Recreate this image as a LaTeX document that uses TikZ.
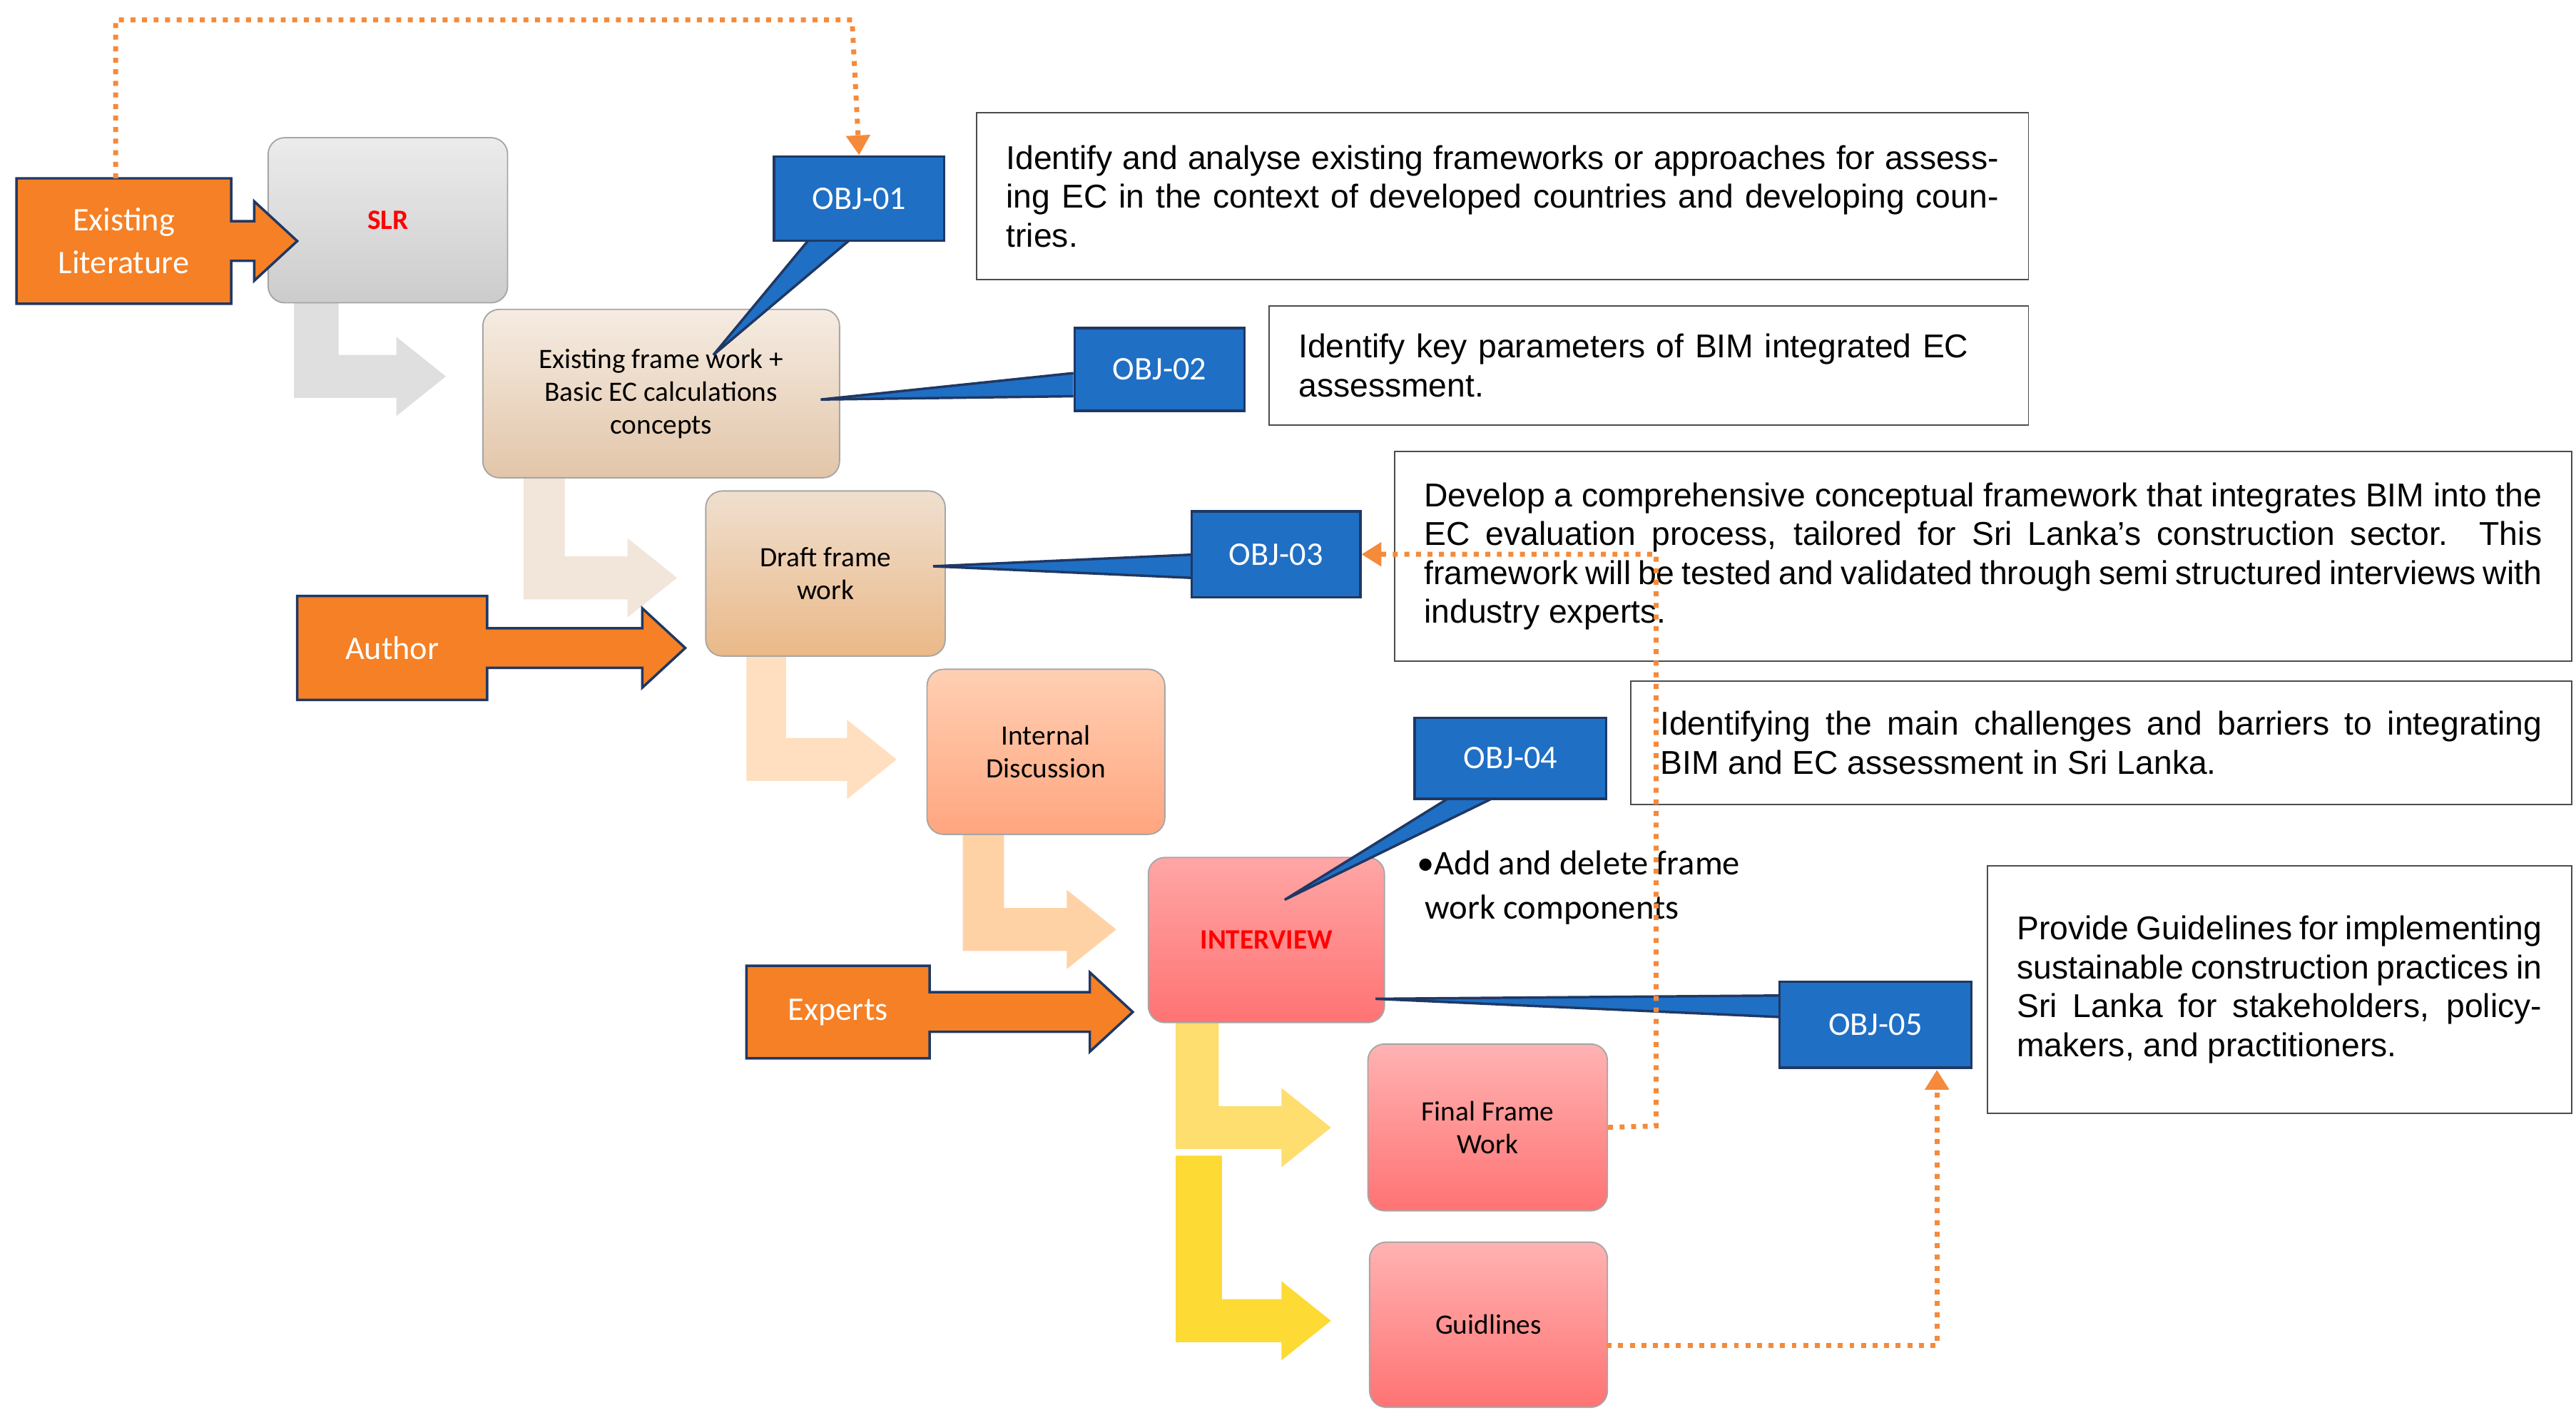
\documentclass[tikz,border=0pt]{standalone}
\usepackage{fontspec}
\setmainfont{Liberation Sans}
\newfontfamily\calfont{Carlito}
\usetikzlibrary{positioning,arrows.meta}
\definecolor{objblue}{HTML}{1F6FC5}
\definecolor{navy}{HTML}{1F3864}
\definecolor{inorange}{HTML}{F58025}
\definecolor{dotorange}{HTML}{F58A3A}
\tikzset{
  stage/.style={rounded corners=10pt, draw=gray!70, line width=0.8pt, font=\calfont\fontsize{17}{20}\selectfont, align=center, anchor=north west, inner sep=0pt},
  obj/.style={fill=objblue, draw=navy, line width=1.5pt, text=white, font=\calfont\fontsize{20}{22}\selectfont, anchor=north west, inner sep=0pt},
  goal/.style={draw=black!70, line width=0.8pt, anchor=north west, font=\fontsize{20}{23.5}\selectfont, align=justify, inner xsep=18pt, inner ysep=0pt},
  feed/.style={dotorange, line width=3pt, dash pattern=on 3pt off 4pt},
}
% bent arrow: colour, left x, right x, top y, centre y, tip x
\newcommand\bentarrow[6]{%
  \fill[#1] (#2,#4) -- (#3,#4) -- (#3,#5-13) -- (#6-30,#5-13) -- (#6-30,#5-24) -- (#6,#5)
    -- (#6-30,#5+24) -- (#6-30,#5+13) -- (#2,#5+13) -- cycle;}
% input block arrow: name, left x, top y, right x, bottom y, tip x, text
\newcommand\inputarrow[7]{%
  \filldraw[fill=inorange, draw=navy, line width=1.5pt] (#2,#3) -- (#4,#3) -- (#4,{(#3+#5)/2-12}) -- (#6-26,{(#3+#5)/2-12})
    -- (#6-26,{(#3+#5)/2-24}) -- (#6,{(#3+#5)/2}) -- (#6-26,{(#3+#5)/2+24}) -- (#6-26,{(#3+#5)/2+12})
    -- (#4,{(#3+#5)/2+12}) -- (#4,#5) -- (#2,#5) -- cycle;
  \node[text=white, font=\calfont\fontsize{20}{26}\selectfont, align=center] (#1) at ({(#2+#4)/2},{(#3+#5)/2}) {#7};}
% callout tail: first point, second point, tip
\newcommand\objtail[3]{%
  \filldraw[fill=objblue, draw=navy, line width=1.5pt] #1 -- #3 -- #2;}
\begin{document}
\begin{tikzpicture}[x=1pt,y=-1pt]
\useasboundingbox (0,0) rectangle (1560,860);
% flow arrows
\bentarrow{gray!25}{178}{205}{183}{228}{270}
\bentarrow{brown!20}{317}{342}{289}{350}{410}
\bentarrow{orange!25}{452}{476}{397}{460}{543}
\bentarrow{orange!35}{583}{608}{505}{563}{676}
\bentarrow{yellow!60!orange!55}{712}{738}{619}{683}{806}
\bentarrow{yellow!70!orange!80}{712}{740}{700}{800}{806}
% stages
\node[stage, top color=gray!15, bottom color=gray!40, minimum width=145pt, minimum height=100pt, text=red, font=\calfont\bfseries\fontsize{17}{20}\selectfont] (slr) at (162,83) {SLR};
\node[stage, top color=brown!15, bottom color=brown!45, minimum width=216pt, minimum height=102pt] (exist) at (292,187) {Existing frame work +\\Basic EC calculations\\concepts};
\node[stage, top color=brown!25, bottom color=orange!40!brown!55, minimum width=145pt, minimum height=100pt] (draft) at (427,297) {Draft frame\\work};
\node[stage, top color=red!25!orange!30, bottom color=red!40!orange!50, minimum width=144pt, minimum height=100pt] (disc) at (561,405) {Internal\\Discussion};
\node[stage, top color=red!35, bottom color=red!55, minimum width=143pt, minimum height=100pt, text=red, font=\calfont\bfseries\fontsize{17}{20}\selectfont] (interview) at (695,519) {INTERVIEW};
\node[stage, top color=red!30, bottom color=red!55, minimum width=145pt, minimum height=101pt] (final) at (828,632) {Final Frame\\Work};
\node[stage, top color=red!30, bottom color=red!55, minimum width=144pt, minimum height=100pt] (guide) at (829,752) {Guidlines};
% inputs
\inputarrow{lit}{10}{108}{140}{184}{180}{Existing\\Literature}
\inputarrow{author}{180}{361}{295}{424}{415}{Author}
\inputarrow{experts}{452}{585}{563}{641}{686}{Experts}
% objectives
\objtail{(490,145)}{(515,145)}{(432,215)}
\objtail{(650,226)}{(650,240)}{(497,242)}
\objtail{(721,336)}{(721,350)}{(565,343)}
\objtail{(878,483)}{(905,483)}{(778,545)}
\objtail{(1077,603)}{(1077,616)}{(833,605)}
\node[obj, minimum width=103pt, minimum height=51pt] (obj1) at (468,94) {OBJ-01};
\node[obj, minimum width=103pt, minimum height=50pt] (obj2) at (650,198) {OBJ-02};
\node[obj, minimum width=102pt, minimum height=52pt] (obj3) at (721,309) {OBJ-03};
\node[obj, minimum width=116pt, minimum height=49pt] (obj4) at (856,434) {OBJ-04};
\node[obj, minimum width=116pt, minimum height=52pt] (obj5) at (1077,594) {OBJ-05};
% goals
\node[goal, text width=601pt, minimum height=101pt] (goal1) at (591,68) {Identify and analyse existing frameworks or approaches for assessing EC in the context of developed countries and developing countries.\par};
\node[goal, text width=424pt, minimum height=72pt, align=left] (goal2) at (768,185) {Identify key parameters of BIM integrated EC assessment.\par};
\node[goal, text width=677pt, minimum height=127pt] (goal3) at (844,273) {Develop a comprehensive conceptual framework that integrates BIM into the EC evaluation process, tailored for Sri Lanka's construction sector. This framework will be tested and validated through semi structured interviews with industry experts.\par};
\node[goal, text width=534pt, minimum height=75pt] (goal4) at (987,412) {Identifying the main challenges and barriers to integrating BIM and EC assessment in Sri Lanka.\par};
\node[goal, text width=318pt, minimum height=150pt] (goal5) at (1203,524) {Provide Guidelines for implementing sustainable construction practices in Sri Lanka for stakeholders, policymakers, and practitioners.\par};
\node[anchor=north west, align=left, font=\calfont\fontsize{21}{27}\selectfont, inner sep=0pt] (note) at (858,515) {\textbullet Add and delete frame\\\ work components};
% feedback lines
\coordinate (litout) at (70,108);
\coordinate (gout) at (973,815);
\coordinate (o5in) at (1173,648);
\draw[feed, -{Triangle[length=12pt,width=14pt]}] (litout) |- (516,12) -- (obj1.north);
\draw[feed, -{Triangle[length=12pt,width=14pt]}] (final.east) -- (1003,682) |- (obj3.east);
\draw[feed, -{Triangle[length=12pt,width=14pt]}] (gout) -| (o5in);
\end{tikzpicture}
\end{document}
